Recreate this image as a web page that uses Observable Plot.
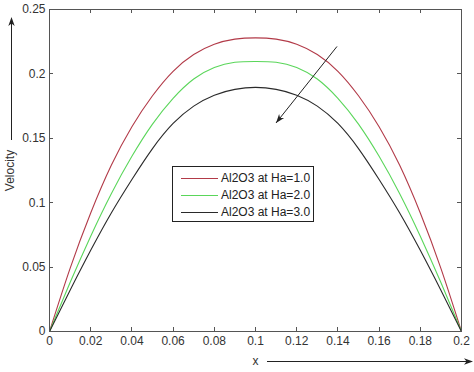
<!DOCTYPE html>
<html><head><meta charset="utf-8">
<script src="https://cdn.jsdelivr.net/npm/d3@7"></script>
<script src="https://cdn.jsdelivr.net/npm/@observablehq/plot@0.6"></script>
<style>
body{margin:0;background:#fff;}
#wrap{position:relative;width:474px;height:372px;font-family:"Liberation Sans",Arial,sans-serif;}
#legend{position:absolute;left:172px;top:166px;width:142px;height:56px;border:1px solid #222;background:#fff;font-size:12px;color:#222;box-sizing:border-box;}
#legend .row{position:absolute;left:0;height:14px;display:flex;align-items:center;}
#legend .sw{display:inline-block;width:37px;height:0;border-top:1px solid;margin-left:8px;margin-right:3px;}
</style>
</head><body>
<div id="wrap"><div id="chart"></div><div id="legend"></div></div>
<script>
// ---- data ----
const xValues = [0,0.01,0.02,0.03,0.04,0.05,0.06,0.07,0.08,0.09,0.1,0.11,0.12,0.13,0.14,0.15,0.16,0.17,0.18,0.19,0.2];
const velHa1 = [0,0.049,0.092,0.129,0.159,0.183,0.202,0.215,0.223,0.227,0.228,0.227,0.223,0.215,0.202,0.183,0.159,0.129,0.092,0.049,0];
const velHa2 = [0,0.038,0.074,0.107,0.136,0.161,0.181,0.196,0.205,0.209,0.2096,0.209,0.205,0.196,0.181,0.161,0.136,0.107,0.074,0.038,0];
const velHa3 = [0,0.032,0.063,0.092,0.118,0.142,0.1615,0.175,0.1835,0.188,0.1895,0.188,0.1835,0.175,0.1615,0.142,0.118,0.092,0.063,0.032,0];
const seriesNames = ["Al2O3 at Ha=1.0","Al2O3 at Ha=2.0","Al2O3 at Ha=3.0"];
const seriesColors = ["#b23a48","#5ad65a","#2a2a2a"];
const xTicks = [0,0.02,0.04,0.06,0.08,0.1,0.12,0.14,0.16,0.18,0.2];
const yTicks = [0,0.05,0.1,0.15,0.2,0.25];
const xLabel = "x";
const yLabel = "Velocity";
const arrowFrom = {x:0.1398, y:0.2209};
const arrowTo = {x:0.1102, y:0.1615};

const allSeries = [velHa1, velHa2, velHa3];
const rows = [];
allSeries.forEach((vals, s) => vals.forEach((v, i) => rows.push({x: xValues[i], v, s: seriesNames[s]})));

function head(g, x1, y1, x2, y2, color) {
  const dx = x2 - x1, dy = y2 - y1, n = Math.hypot(dx, dy);
  const ux = dx / n, uy = dy / n, px = -uy, py = ux;
  const L = 9, W = 3.2, N = 2.5;
  const pts = [[x2, y2], [x2 - ux*L + px*W, y2 - uy*L + py*W], [x2 - ux*(L-N), y2 - uy*(L-N)], [x2 - ux*L - px*W, y2 - uy*L - py*W]];
  g.append("polygon").attr("points", pts.map(p => p.join(",")).join(" ")).attr("fill", color).attr("stroke", "none");
}

function decorations(index, scales, values, dims) {
  const g = d3.create("svg:g");
  const l = dims.marginLeft, t = dims.marginTop, r = dims.width - dims.marginRight, b = dims.height - dims.marginBottom;
  const tk = g.append("g").attr("stroke", "#555").attr("stroke-width", 1);
  for (const v of xTicks) {
    const x = Math.round(scales.x(v)) + 0.5;
    tk.append("line").attr("x1", x).attr("x2", x).attr("y1", b).attr("y2", b - 4);
    tk.append("line").attr("x1", x).attr("x2", x).attr("y1", t).attr("y2", t + 4);
  }
  for (const v of yTicks) {
    const y = Math.round(scales.y(v)) + 0.5;
    tk.append("line").attr("x1", l).attr("x2", l + 4).attr("y1", y).attr("y2", y);
    tk.append("line").attr("x1", r).attr("x2", r - 4).attr("y1", y).attr("y2", y);
  }
  // annotation arrow across the curves
  const ax1 = scales.x(arrowFrom.x), ay1 = scales.y(arrowFrom.y), ax2 = scales.x(arrowTo.x), ay2 = scales.y(arrowTo.y);
  g.append("line").attr("x1", ax1).attr("y1", ay1).attr("x2", ax2).attr("y2", ay2).attr("stroke", "#222").attr("stroke-width", 1);
  head(g, ax1, ay1, ax2, ay2, "#222");
  // axis arrows
  const yx = 11.5, yTop = 17, yBot = 140;
  g.append("line").attr("x1", yx).attr("x2", yx).attr("y1", yBot).attr("y2", yTop + 4).attr("stroke", "#222");
  head(g, yx, yBot, yx, yTop, "#222");
  const xy = 361.5, xL = 267, xR = 473;
  g.append("line").attr("x1", xL).attr("x2", xR - 4).attr("y1", xy).attr("y2", xy).attr("stroke", "#222");
  head(g, xL, xy, xR, xy, "#222");
  return g.node();
}

const chart = Plot.plot({
  width: 474, height: 372,
  marginLeft: 49, marginRight: 13, marginTop: 9, marginBottom: 41,
  style: {fontFamily: "'Liberation Sans', Arial, sans-serif", fontSize: "12px", color: "#333", background: "#fff", overflow: "visible"},
  x: {domain: [0, 0.2]},
  y: {domain: [0, 0.25]},
  color: {domain: seriesNames, range: seriesColors},
  marks: [
    Plot.axisX(xTicks, {anchor: "bottom", tickSize: 0, tickPadding: 5, tickFormat: d => String(d), label: xLabel, labelAnchor: "center", labelOffset: 33, labelArrow: "none", fill: "#333"}),
    Plot.axisY(yTicks, {anchor: "left", tickSize: 0, tickPadding: 4, tickFormat: d => String(d), label: yLabel, labelAnchor: "center", labelOffset: 44, labelArrow: "none", fill: "#333"}),
    Plot.line(rows, {x: "x", y: "v", z: "s", stroke: "s", strokeWidth: 1.1, curve: "natural"}),
    Plot.frame({stroke: "#555"}),
    decorations
  ]
});
document.getElementById("chart").appendChild(chart);

const legend = document.getElementById("legend");
seriesNames.forEach((name, i) => {
  const row = document.createElement("div");
  row.className = "row";
  row.style.top = (4 + i * 17.2) + "px";
  const sw = document.createElement("span");
  sw.className = "sw";
  sw.style.borderTopColor = seriesColors[i];
  row.appendChild(sw);
  const tx = document.createElement("span");
  tx.textContent = name;
  row.appendChild(tx);
  legend.appendChild(row);
});
</script>
</body></html>
